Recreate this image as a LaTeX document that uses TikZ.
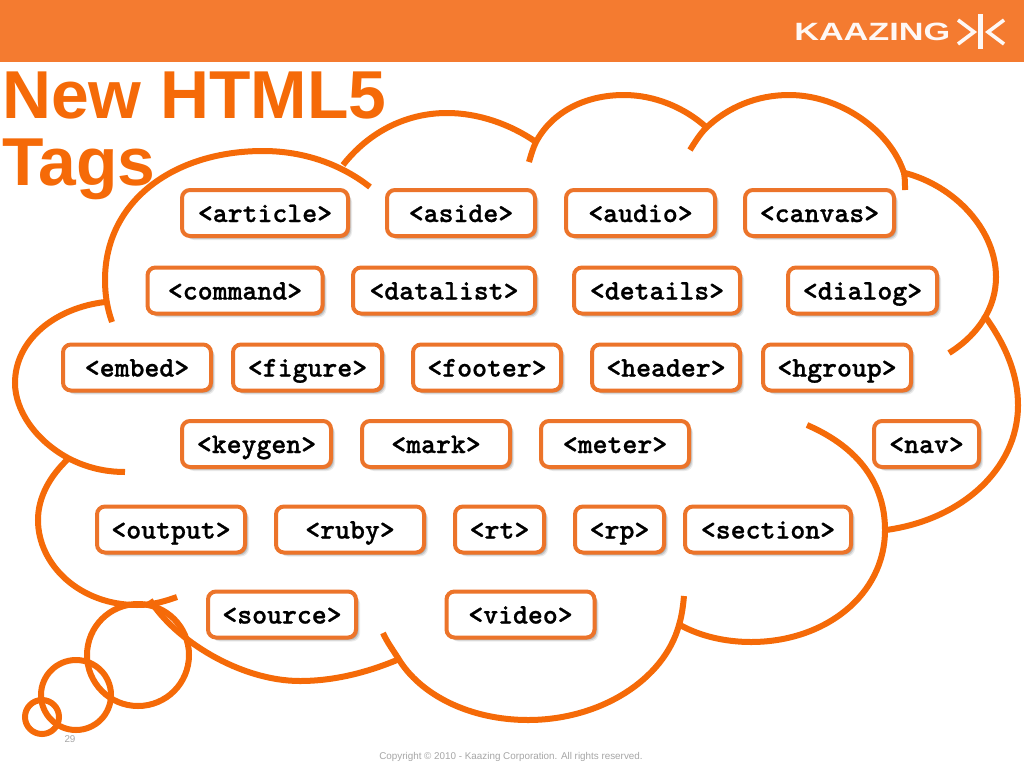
\documentclass[tikz,border=0pt]{standalone}
\usepackage{fontspec}
\setmainfont{Liberation Sans}
\font\tagfont="[lmmonolt10-bold]:embolden=0.9" at 28.4pt
\usetikzlibrary{shadows,fadings}
\definecolor{headorange}{HTML}{F47B30}
\definecolor{cloudorange}{HTML}{F56A08}
\definecolor{boxorange}{HTML}{EC742A}
\tikzset{
  cloudline/.style={draw=cloudorange,line width=6pt,line cap=butt},
  bubble/.style={draw=cloudorange,line width=6pt},
  tagbox/.style={draw=boxorange,line width=4pt,fill=white,rounded corners=8pt,inner sep=0pt,
    minimum height=46pt,text height=20pt,text depth=2pt,
    font=\tagfont,text=black,
    drop shadow={shadow xshift=4pt,shadow yshift=-4pt,fill=black,opacity=0.08},
    drop shadow={shadow xshift=3pt,shadow yshift=-3pt,fill=black,opacity=0.12},
    drop shadow={shadow xshift=2pt,shadow yshift=-2pt,fill=black,opacity=0.15}},
  titletext/.style={font=\bfseries\fontsize{67.8}{67}\selectfont,text=cloudorange,inner sep=0pt,anchor=base west},
  foot/.style={text=black!35,inner sep=0pt,font=\fontsize{9.85}{12}\selectfont},
  logoline/.style={draw=white!95!headorange,line width=3.6pt,line cap=butt,line join=miter}
}
\begin{document}
\begin{tikzpicture}[x=1pt,y=-1pt]
\useasboundingbox (0,0) rectangle (1024,768);
\fill[white] (0,0) rectangle (1024,768);
\fill[headorange] (0,0) rectangle (1024,62);
% logo
\node[inner sep=0pt,anchor=base west,text=white!95!headorange,xscale=1.37,font=\bfseries\fontsize{25}{26}\selectfont] (logo) at (794,41) {KAAZING};
\coordinate (la) at (958,20); \coordinate (lb) at (974,32); \coordinate (lc) at (958,44);
\coordinate (ld) at (1004,20); \coordinate (le) at (988,32); \coordinate (lf) at (1004,44);
\coordinate (lg) at (980.5,14); \coordinate (lh) at (980.5,49);
\draw[logoline] (la) -- (lb) -- (lc);
\draw[logoline] (ld) -- (le) -- (lf);
\draw[logoline,line width=4.5pt] (lg) -- (lh);
% title
\node[titletext] (t1) at (2,118) {New HTML5};
\node[titletext] (t2) at (2,185) {Tags};
% cloud
\draw[cloudline] (112,322) .. controls (107,308) and (105,294) .. (105,280)
  .. controls (105,200) and (175,151) .. (263,151)
  .. controls (305,151) and (342,165) .. (370,187);
\draw[cloudline] (343,165) .. controls (368,133) and (405,113) .. (447,113)
  .. controls (478,113) and (510,124) .. (536,142);
\draw[cloudline] (529,162) .. controls (531,155) and (533,148) .. (536,142)
  .. controls (552,112) and (585,95) .. (624,95)
  .. controls (655,95) and (685,108) .. (706,127);
\draw[cloudline] (690,150) .. controls (695,142) and (700,134) .. (706,128)
  .. controls (728,107) and (757,95) .. (789,95)
  .. controls (840,95) and (890,130) .. (904,173)
  .. controls (905,178) and (905,184) .. (905,190);
\draw[cloudline] (905,173) .. controls (955,186) and (996,230) .. (996,277)
  .. controls (996,308) and (978,335) .. (949,353);
\draw[cloudline] (984,315) .. controls (1006,345) and (1018,375) .. (1018,405)
  .. controls (1018,470) and (960,520) .. (886,530);
\draw[cloudline] (807,425) .. controls (860,448) and (885,485) .. (885,530)
  .. controls (885,595) and (825,642) .. (751,642)
  .. controls (725,642) and (700,636) .. (680,625);
\draw[cloudline] (684,596) .. controls (683,606) and (682,615) .. (679,625)
  .. controls (664,680) and (600,720) .. (528,720)
  .. controls (470,720) and (420,695) .. (398,658)
  .. controls (393,650) and (387,642) .. (383,633);
\draw[cloudline] (150,600) .. controls (175,640) and (240,681) .. (300,681)
  .. controls (335,681) and (368,672) .. (397,660);
\draw[cloudline] (177,597) .. controls (160,603) and (150,605) .. (137,605)
  .. controls (80,605) and (38,565) .. (38,520)
  .. controls (38,497) and (50,476) .. (68,459);
\draw[cloudline] (125,472) .. controls (104,472) and (85,467) .. (68,458)
  .. controls (35,440) and (15,410) .. (15,383)
  .. controls (15,340) and (55,308) .. (105,302);
\node[bubble,circle,minimum size=102pt,inner sep=0pt] (c1) at (138,655) {};
\node[bubble,circle,minimum size=70pt,inner sep=0pt] (c2) at (76,695) {};
\node[bubble,circle,minimum size=34pt,inner sep=0pt] (c3) at (42,717) {};
% tags
\node[tagbox,minimum width=166pt] (article) at (265,213) {<article>};
\node[tagbox,minimum width=148pt] (aside) at (461,213) {<aside>};
\node[tagbox,minimum width=149pt] (audio) at (640.5,213) {<audio>};
\node[tagbox,minimum width=149pt] (canvas) at (819.5,213) {<canvas>};
\node[tagbox,minimum width=175pt] (command) at (235,290.5) {<command>};
\node[tagbox,minimum width=182pt] (datalist) at (444,290.5) {<datalist>};
\node[tagbox,minimum width=166pt] (details) at (657,290.5) {<details>};
\node[tagbox,minimum width=149pt] (dialog) at (862.5,290.5) {<dialog>};
\node[tagbox,minimum width=148pt] (embed) at (137,367.5) {<embed>};
\node[tagbox,minimum width=149pt] (figure) at (307.5,367.5) {<figure>};
\node[tagbox,minimum width=148pt] (footer) at (487,367.5) {<footer>};
\node[tagbox,minimum width=148pt] (header) at (666,367.5) {<header>};
\node[tagbox,minimum width=148pt] (hgroup) at (837,367.5) {<hgroup>};
\node[tagbox,minimum width=149pt] (keygen) at (256.5,444) {<keygen>};
\node[tagbox,minimum width=148pt] (mark) at (436,444) {<mark>};
\node[tagbox,minimum width=148pt] (meter) at (615,444) {<meter>};
\node[tagbox,minimum width=105pt] (nav) at (926.5,444) {<nav>};
\node[tagbox,minimum width=148pt] (output) at (171,529.5) {<output>};
\node[tagbox,minimum width=148pt] (ruby) at (350,529.5) {<ruby>};
\node[tagbox,minimum width=89pt] (rt) at (499.5,529.5) {<rt>};
\node[tagbox,minimum width=89pt] (rp) at (619.5,529.5) {<rp>};
\node[tagbox,minimum width=166pt] (section) at (768,529.5) {<section>};
\node[tagbox,minimum width=148pt] (source) at (282,614.5) {<source>};
\node[tagbox,minimum width=148pt] (video) at (520.5,614.5) {<video>};
% footer
\node[foot] (pg) at (70,739) {29};
\node[foot] (copy) at (511,757) {Copyright © 2010 - Kaazing Corporation. All rights reserved.};
\end{tikzpicture}
\end{document}
